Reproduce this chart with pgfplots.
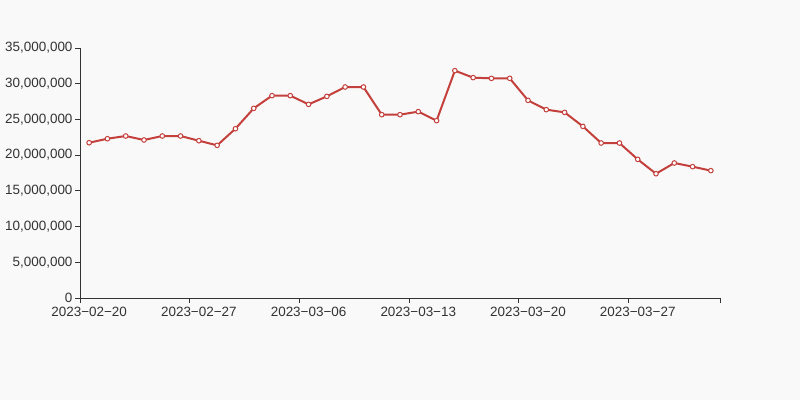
\documentclass[border=0pt]{standalone}
\usepackage{pgfplots}
\pgfplotsset{compat=1.18}
\usepackage{fontspec}
\setmainfont{Liberation Sans}
\definecolor{bg}{HTML}{F9F9F9}
\definecolor{ln}{HTML}{C4403C}
\definecolor{ax}{HTML}{333333}
\begin{document}
\begin{tikzpicture}[x=1bp,y=1bp]
\fill[bg] (0,0) rectangle (800,400);
\begin{axis}[
  at={(80bp,102bp)}, anchor=south west,
  scale only axis, width=640bp, height=250bp,
  xmin=-0.5, xmax=34.5, ymin=0, ymax=35000000,
  axis x line=bottom, axis y line=left,
  axis line style={-, ax, line width=1bp},
  tick style={ax, line width=1bp},
  tick align=outside, major tick length=5bp,
  xtick={-0.5,5.5,11.5,17.5,23.5,29.5,34.5}, xticklabels={},
  extra x ticks={0,6,12,18,24,30},
  extra x tick labels={2023−02−20,2023−02−27,2023−03−06,2023−03−13,2023−03−20,2023−03−27},
  extra x tick style={major tick length=0pt},
  ytick={0,5000000,10000000,15000000,20000000,25000000,30000000,35000000},
  scaled y ticks=false,
  yticklabel style={/pgf/number format/fixed, /pgf/number format/1000 sep={,}},
  /pgf/number format/assume math mode=true,
  ticklabel style={font=\fontsize{13.5}{16}\selectfont, text=ax},
  xticklabel style={yshift=-6bp},
  yticklabel style={xshift=1bp},
  clip=false,
]
\addplot[ln, line width=2bp, mark=*, mark size=2.3bp, mark options={fill=white, draw=ln, line width=1bp}] coordinates {
(0,21.74e6) (1,22.30e6) (2,22.68e6) (3,22.12e6) (4,22.68e6) (5,22.68e6) (6,22.02e6) (7,21.37e6)
(8,23.70e6) (9,26.55e6) (10,28.33e6) (11,28.33e6) (12,27.11e6) (13,28.23e6) (14,29.54e6) (15,29.54e6)
(16,25.67e6) (17,25.67e6) (18,26.09e6) (19,24.83e6) (20,31.83e6) (21,30.85e6) (22,30.75e6) (23,30.75e6)
(24,27.67e6) (25,26.37e6) (26,25.99e6) (27,24.03e6) (28,21.70e6) (29,21.70e6) (30,19.41e6) (31,17.40e6)
(32,18.90e6) (33,18.39e6) (34,17.83e6)
};
\end{axis}
\end{tikzpicture}
\end{document}
